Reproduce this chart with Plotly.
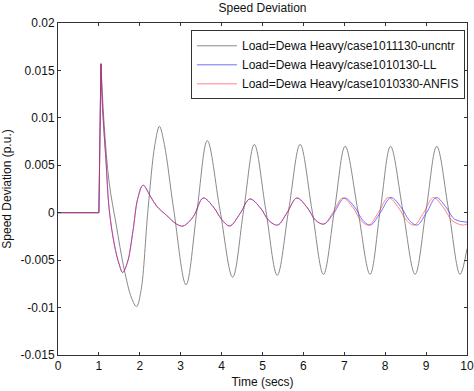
import plotly.graph_objects as go

# ---- data ----
t_unc = [0, 1.0, 1.05, 1.13, 1.25, 1.42, 1.62, 1.80, 1.92, 2.03, 2.20, 2.37, 2.48, 2.60,
         2.83, 3.13, 3.40, 3.65, 3.96, 4.27, 4.54, 4.80, 5.08, 5.36, 5.64, 5.92, 6.21,
         6.49, 6.76, 7.02, 7.33, 7.63, 7.88, 8.13, 8.43, 8.73, 9.00, 9.26, 9.55, 9.83, 10.0]
y_unc = [0, 0, 0.0157, 0.0092, 0.0032, -0.0012, -0.0060, -0.0090, -0.0099, -0.0082, 0.0003,
         0.0072, 0.0091, 0.0072, 0.0003, -0.0076, 0.0003, 0.0076, 0.0003, -0.0068, 0.0003,
         0.0072, 0.0003, -0.0066, 0.0003, 0.0072, 0.0003, -0.0065, 0.0003, 0.0070, 0.0003,
         -0.0065, 0.0003, 0.0070, 0.0003, -0.0065, 0.0003, 0.0070, 0.0003, -0.0065, -0.0038]

t_ll = [0, 1.0, 1.05, 1.09, 1.17, 1.25, 1.38, 1.50, 1.58, 1.70, 1.83, 1.95, 2.08, 2.25,
        2.41, 2.66, 2.90, 3.06, 3.31, 3.55, 3.80, 4.00, 4.20, 4.45, 4.69, 4.95, 5.15, 5.37,
        5.60, 5.84, 6.10, 6.30, 6.50, 6.75, 7.00, 7.27, 7.45, 7.64, 7.88, 8.14, 8.40, 8.59,
        8.78, 9.01, 9.25, 9.50, 9.70, 10.0]
y_ll = [0, 0, 0.0157, 0.0109, 0.0057, 0.0004, -0.0034, -0.0055, -0.0063, -0.0052, -0.0020,
        0.0015, 0.0029, 0.0018, 0.0007, -0.0003, -0.0012, -0.0014, -0.0004, 0.00155, 0.0006,
        -0.0007, -0.0014, -0.0001, 0.00145, 0.0005, -0.0008, -0.0013, 0.0000, 0.00155, 0.0005,
        -0.0008, -0.0012, 0.0000, 0.00155, 0.0005, -0.0008, -0.0013, 0.0000, 0.0016, 0.0005,
        -0.0008, -0.0013, 0.0000, 0.0016, 0.0005, -0.0007, -0.0010]

t_anfis = [0, 1.0, 1.05, 1.09, 1.17, 1.25, 1.38, 1.50, 1.58, 1.70, 1.83, 1.95, 2.08, 2.25,
           2.41, 2.66, 2.90, 3.06, 3.31, 3.55, 3.80, 4.00, 4.20, 4.45, 4.69, 4.95, 5.15, 5.37,
           5.60, 5.84, 6.10, 6.30, 6.50, 6.72, 6.96, 7.22, 7.40, 7.60, 7.83, 8.08, 8.33, 8.52,
           8.71, 8.94, 9.18, 9.43, 9.63, 9.88, 10.0]
y_anfis = [0, 0, 0.0157, 0.0109, 0.0057, 0.0004, -0.0034, -0.0055, -0.0063, -0.0052, -0.0020,
           0.0015, 0.0029, 0.0018, 0.0007, -0.0003, -0.0012, -0.0014, -0.0004, 0.00155, 0.0006,
           -0.0007, -0.0014, -0.0001, 0.00145, 0.0005, -0.0008, -0.0013, 0.0000, 0.00155, 0.0005,
           -0.0008, -0.0012, 0.0000, 0.00155, 0.0005, -0.0008, -0.0013, 0.0000, 0.0016, 0.0005,
           -0.0008, -0.0013, 0.0000, 0.0016, 0.0005, -0.0008, -0.0013, -0.0012]

names = ["Load=Dewa Heavy/case1011130-uncntr",
         "Load=Dewa Heavy/case1010130-LL",
         "Load=Dewa Heavy/case1010330-ANFIS"]

x_ticks = [0, 1, 2, 3, 4, 5, 6, 7, 8, 9, 10]
x_ticktext = ["0", "1", "2", "3", "4", "5", "6", "7", "8", "9", "10"]
y_ticks = [-0.015, -0.01, -0.005, 0, 0.005, 0.01, 0.015, 0.02]
y_ticktext = ["-0.015", "-0.01", "-0.005", "0", "0.005", "0.01", "0.015", "0.02"]

FONT = "Liberation Sans, Arial, sans-serif"

series = [
    (t_unc, y_unc, names[0], "#8a8a8a", 1.0),
    (t_ll, y_ll, names[1], "#4040ff", 0.75),
    (t_anfis, y_anfis, names[2], "#ff2020", 0.55),
]

fig = go.Figure()
for i, (t, y, name, color, op) in enumerate(series):
    k = y.index(max(y))  # peak: step part drawn straight, rest smoothed
    fig.add_trace(go.Scatter(x=t[:k + 1], y=y[:k + 1], mode="lines", name=name,
                             legendgroup=str(i), showlegend=True, opacity=op,
                             line=dict(color=color, width=1, shape="linear")))
    fig.add_trace(go.Scatter(x=t[k:], y=y[k:], mode="lines", name=name,
                             legendgroup=str(i), showlegend=False, opacity=op,
                             line=dict(color=color, width=1, shape="spline", smoothing=1)))

axis_common = dict(showgrid=False, zeroline=False, showline=True, linecolor="#333333",
                   linewidth=1, mirror="ticks", ticks="inside", ticklen=3, automargin=False,
                   tickcolor="#333333", tickfont=dict(family=FONT, size=12, color="#111111"))

fig.update_layout(
    width=474, height=391,
    margin=dict(l=58, r=7, t=23, b=36),
    paper_bgcolor="white", plot_bgcolor="white",
    font=dict(family=FONT, size=12, color="#111111"),
    title=dict(text="Speed Deviation", x=0.5, xref="paper", y=0.98, yref="container",
               yanchor="middle", font=dict(family=FONT, size=12, color="#111111")),
    xaxis=dict(range=[0, 10], tickvals=x_ticks, ticktext=x_ticktext,
               title=dict(text="Time (secs)", standoff=5, font=dict(size=12)), **axis_common),
    yaxis=dict(range=[-0.015, 0.02], tickvals=y_ticks, ticktext=y_ticktext,
               title=dict(text="Speed Deviation (p.u.)", standoff=6, font=dict(size=12)),
               **axis_common),
    legend=dict(x=0.995, y=0.978, xanchor="right", yanchor="top",
                bgcolor="white", bordercolor="#333333", borderwidth=1,
                font=dict(family=FONT, size=12, color="#111111"),
                tracegroupgap=0, itemwidth=40),
    showlegend=True,
)

fig.write_html("out.html", config={"displayModeBar": False},
               post_script="document.body.style.margin='0px';")
